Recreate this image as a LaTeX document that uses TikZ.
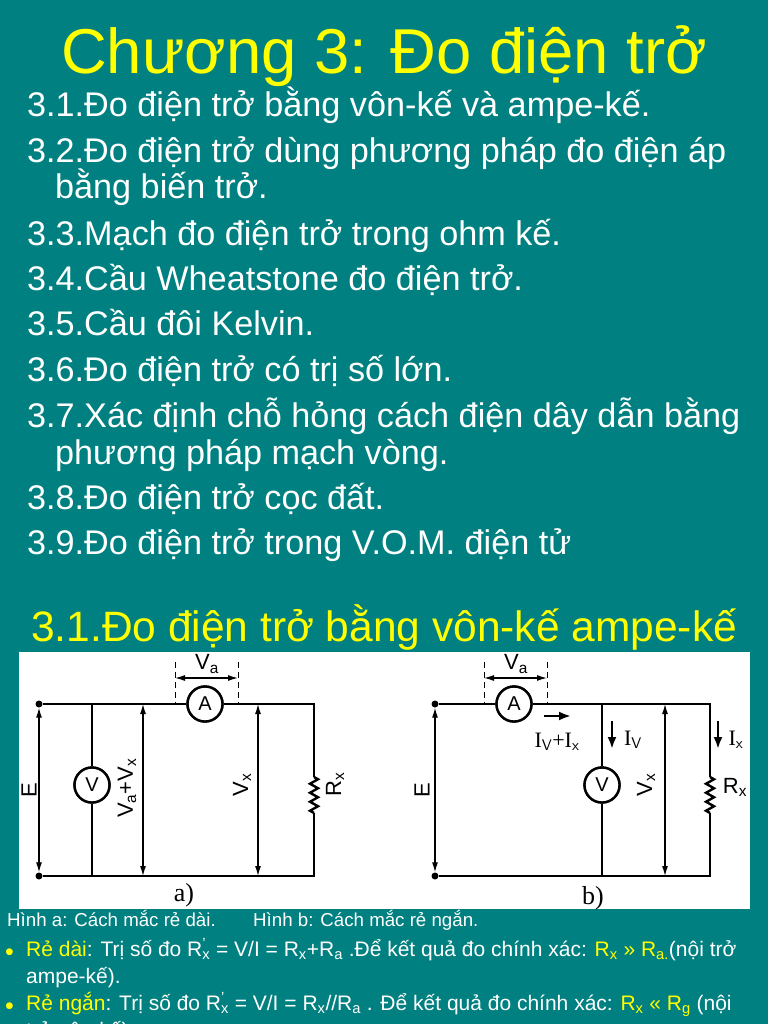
\documentclass[tikz,border=0pt]{standalone}
\usepackage{fontspec}
\setmainfont{Liberation Sans}
\newfontfamily\serifrm{Liberation Serif}
\usetikzlibrary{arrows.meta,decorations.pathmorphing}
\definecolor{slidebg}{HTML}{008080}
\definecolor{slideyel}{HTML}{FFFF00}
\newcommand{\dn}[1]{\textsubscript{#1}}
\newcommand{\rpx}{R\rlap{\textsuperscript{'}}\textsubscript{x}}
\tikzset{
  titletext/.style={text=slideyel,inner sep=0pt,font=\fontsize{63.4}{63.4}\selectfont},
  headtext/.style={text=slideyel,inner sep=0pt,anchor=base west,font=\fontsize{42.5}{42.5}\selectfont},
  itemtext/.style={text=white,inner sep=0pt,anchor=base west,font=\fontsize{34.2}{34.2}\selectfont},
  capttext/.style={text=white,inner sep=0pt,anchor=base west,font=\fontsize{18.7}{18.7}\selectfont},
  notetext/.style={text=white,inner sep=0pt,anchor=base west,font=\fontsize{21}{21}\selectfont},
  dottext/.style={text=slideyel,inner sep=0pt,anchor=base west,font=\fontsize{25}{25}\selectfont},
  wire/.style={line width=2.4pt,black},
  dimline/.style={line width=1.2pt,black,{Latex[length=10pt,width=6pt]}-{Latex[length=10pt,width=6pt]}},
  curline/.style={line width=2.6pt,black,-{Latex[length=12pt,width=9pt]}},
  meter/.style={circle,draw=black,line width=2.4pt,fill=white,minimum size=35pt,inner sep=0pt,font=\fontsize{20}{20}\selectfont},
  term/.style={circle,fill=black,inner sep=0pt,minimum size=7pt},
  lbl/.style={inner sep=0pt,text=black,font=\fontsize{22}{22}\selectfont},
  srf/.style={inner sep=0pt,text=black,font=\fontsize{22}{22}\selectfont\serifrm},
  figcap/.style={inner sep=0pt,text=black,font=\fontsize{26}{26}\selectfont\serifrm},
  guide/.style={line width=1pt,black,dashed,dash pattern=on 6pt off 4pt}
}
\begin{document}
\begin{tikzpicture}[x=1pt,y=-1pt]
\path[use as bounding box] (0,0) rectangle (768,1024);
\clip (0,0) rectangle (768,1024);
\fill[slidebg] (0,0) rectangle (768,1024);
\node[titletext] (title) at (384,56) {Chương 3: Đo điện trở};
\node[itemtext] (i1) at (27,117) {3.1.Đo điện trở bằng vôn-kế và ampe-kế.};
\node[itemtext] (i2) at (27,163) {3.2.Đo điện trở dùng phương pháp đo điện áp};
\node[itemtext] (i2b) at (55,199) {bằng biến trở.};
\node[itemtext] (i3) at (27,245) {3.3.Mạch đo điện trở trong ohm kế.};
\node[itemtext] (i4) at (27,290) {3.4.Cầu Wheatstone đo điện trở.};
\node[itemtext] (i5) at (27,335) {3.5.Cầu đôi Kelvin.};
\node[itemtext] (i6) at (27,381) {3.6.Đo điện trở có trị số lớn.};
\node[itemtext] (i7) at (27,427) {3.7.Xác định chỗ hỏng cách điện dây dẫn bằng};
\node[itemtext] (i7b) at (55,464) {phương pháp mạch vòng.};
\node[itemtext] (i8) at (27,509) {3.8.Đo điện trở cọc đất.};
\node[itemtext] (i9) at (27,554) {3.9.Đo điện trở trong V.O.M. điện tử};
\node[headtext] (head) at (31,641) {3.1.Đo điện trở bằng vôn-kế ampe-kế};
\fill[white] (19,652) rectangle (750,909);
% hinh a
\node[term] (a1) at (39,704) {};
\node[term] (a2) at (39,876) {};
\node[meter] (ma) at (205,704) {A};
\node[meter] (va) at (92,785) {V};
\coordinate (atr) at (314,704);
\coordinate (abr) at (314,876);
\coordinate (art) at (314,777);
\coordinate (arb) at (314,813);
\coordinate (avt) at (92,704);
\coordinate (avb) at (92,876);
\draw[wire] (a1) -- (ma) -- (atr) -- (art);
\draw[wire,decorate,decoration={zigzag,amplitude=4pt,segment length=9pt}] (art) -- (arb);
\draw[wire] (arb) -- (abr) -- (a2);
\draw[wire] (avt) -- (va) -- (avb);
\node[meter] at (ma) {A};
\node[meter] at (va) {V};
\draw[dimline] (a1) -- (a2);
\coordinate (au1) at (143,704);
\coordinate (ad1) at (143,876);
\coordinate (au2) at (258,704);
\coordinate (ad2) at (258,876);
\draw[dimline] (au1) -- (ad1);
\draw[dimline] (au2) -- (ad2);
\coordinate (ag1) at (175,662);
\coordinate (ag2) at (238,662);
\coordinate (ah1) at (175,704);
\coordinate (ah2) at (238,704);
\coordinate (ak1) at (175,678);
\coordinate (ak2) at (238,678);
\draw[guide] (ag1) -- (ah1);
\draw[guide] (ag2) -- (ah2);
\draw[dimline] (ak1) -- (ak2);
\node[lbl] (lva) at (207,664) {V\dn{a}};
\node[lbl,rotate=90] (le) at (29,790) {E};
\node[lbl,rotate=90] (lvv) at (127,788) {V\dn{a}+V\dn{x}};
\node[lbl,rotate=90] (lvx) at (242,785) {V\dn{x}};
\node[lbl,rotate=90] (lrx) at (335,784) {R\dn{x}};
\node[figcap] (capa) at (184,895) {a)};
% hinh b
\node[term] (b1) at (435,704) {};
\node[term] (b2) at (435,876) {};
\node[meter] (mb) at (514,704) {A};
\node[meter] (vb) at (602,785) {V};
\coordinate (btr) at (710,704);
\coordinate (bbr) at (710,876);
\coordinate (brt) at (710,777);
\coordinate (brb) at (710,813);
\coordinate (bvt) at (602,704);
\coordinate (bvb) at (602,876);
\draw[wire] (b1) -- (mb) -- (btr) -- (brt);
\draw[wire,decorate,decoration={zigzag,amplitude=4pt,segment length=9pt}] (brt) -- (brb);
\draw[wire] (brb) -- (bbr) -- (b2);
\draw[wire] (bvt) -- (vb) -- (bvb);
\node[meter] at (mb) {A};
\node[meter] at (vb) {V};
\draw[dimline] (b1) -- (b2);
\coordinate (bu) at (665,704);
\coordinate (bd) at (665,876);
\draw[dimline] (bu) -- (bd);
\coordinate (bg1) at (484,662);
\coordinate (bg2) at (547,662);
\coordinate (bh1) at (484,704);
\coordinate (bh2) at (547,704);
\coordinate (bk1) at (484,678);
\coordinate (bk2) at (547,678);
\draw[guide] (bg1) -- (bh1);
\draw[guide] (bg2) -- (bh2);
\draw[dimline] (bk1) -- (bk2);
\coordinate (c1) at (544,716);
\coordinate (c2) at (571,716);
\coordinate (c3) at (612,721);
\coordinate (c4) at (612,749);
\coordinate (c5) at (718,721);
\coordinate (c6) at (718,749);
\draw[curline] (c1) -- (c2);
\draw[curline] (c3) -- (c4);
\draw[curline] (c5) -- (c6);
\node[lbl] (lvb) at (516,664) {V\dn{a}};
\node[lbl,rotate=90] (leb) at (422,790) {E};
\node[lbl,rotate=90] (lvxb) at (646,785) {V\dn{x}};
\node[lbl] (lrxb) at (735,787) {R\dn{x}};
\node[srf] (liv) at (557,742) {I\dn{\sffamily V}+I\dn{\sffamily x}};
\node[srf] (liv2) at (633,740) {I\dn{\sffamily V}};
\node[srf] (lix) at (736,740) {I\dn{\sffamily x}};
\node[figcap] (capb) at (593,898) {b)};
% ghi chu
\node[capttext] (n0) at (7,926) {Hình a: Cách mắc rẻ dài.};
\node[capttext] (n0b) at (253,926) {Hình b: Cách mắc rẻ ngắn.};
\node[dottext] (d1) at (5,960) {•};
\node[notetext] (n1) at (26,956) {\textcolor{slideyel}{Rẻ dài}: Trị số đo \rpx{} = V/I = R\dn{x}+R\dn{a} .Để kết quả đo chính xác: \textcolor{slideyel}{R\dn{x} » R\dn{a.}}(nội trở};
\node[notetext] (n1b) at (26,983) {ampe-kế).};
\node[dottext] (d2) at (5,1014) {•};
\node[notetext] (n2) at (26,1010) {\textcolor{slideyel}{Rẻ ngắn}: Trị số đo \rpx{} = V/I = R\dn{x}//R\dn{a} . Để kết quả đo chính xác: \textcolor{slideyel}{R\dn{x} « R\dn{g}} (nội};
\node[notetext] (n2b) at (26,1037) {trở vôn-kế).};
\end{tikzpicture}
\end{document}
